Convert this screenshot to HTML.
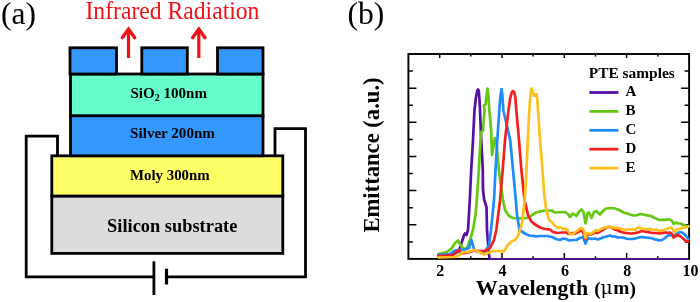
<!DOCTYPE html>
<html lang="en"><head><meta charset="utf-8"><title>Figure</title>
<style>html,body{margin:0;padding:0;background:#fff}body{width:700px;height:302px;overflow:hidden}svg{display:block}</style>
</head><body>
<svg width="700" height="302" viewBox="0 0 700 302">
<rect width="700" height="302" fill="#fff"/>
<g font-family="'Liberation Serif', serif">
<text transform="translate(1 23.9) scale(1.032 1)" font-size="30.6" fill="#000">(a)</text>
<text transform="translate(347.4 24.1) scale(1.03 1)" font-size="30.7" fill="#000">(b)</text>
<text transform="translate(85.5 19.4) scale(0.969 1)" font-size="24.4" fill="#ee1118">Infrared Radiation</text>
</g>
<path d="M128.5 58.0V29.5" stroke="#ee1118" stroke-width="3.2" fill="none"/>
<path d="M122.3 37.7L128.5 29.1L134.7 37.7" stroke="#ee1118" stroke-width="3.4" fill="none" stroke-linejoin="miter" stroke-linecap="round"/>
<path d="M198.8 58.0V29.5" stroke="#ee1118" stroke-width="3.2" fill="none"/>
<path d="M192.6 37.7L198.8 29.1L205.0 37.7" stroke="#ee1118" stroke-width="3.4" fill="none" stroke-linejoin="miter" stroke-linecap="round"/>
<path d="M57.5 156V136.2H26.2V276.8H153" fill="none" stroke="#000" stroke-width="2.8"/>
<path d="M275 156V128.6H305.5V276.8H168" fill="none" stroke="#000" stroke-width="2.8"/>
<path d="M153.9 261.3V295" stroke="#000" stroke-width="2.8"/>
<path d="M166.5 268.7V284.5" stroke="#000" stroke-width="3.2"/>
<rect x="51.8" y="196" width="231" height="57.4" fill="#dcdcdc" stroke="#000" stroke-width="2.8"/>
<rect x="51.8" y="155.8" width="231" height="40.2" fill="#ffff66" stroke="#000" stroke-width="2.8"/>
<rect x="70.5" y="115.7" width="192.5" height="40.1" fill="#3399ff" stroke="#000" stroke-width="2.8"/>
<rect x="70.5" y="74" width="192.5" height="41.7" fill="#66ffcc" stroke="#000" stroke-width="2.8"/>
<rect x="70.0" y="47.8" width="46.5" height="26.2" fill="#3399ff" stroke="#000" stroke-width="2.8"/>
<rect x="141.8" y="47.8" width="45.5" height="26.2" fill="#3399ff" stroke="#000" stroke-width="2.8"/>
<rect x="217.5" y="47.8" width="45.5" height="26.2" fill="#3399ff" stroke="#000" stroke-width="2.8"/>
<g font-family="'Liberation Serif', serif" font-weight="bold" fill="#000">
<text x="130.5" y="97.7" font-size="15.05">SiO<tspan font-size="10" dy="3">2</tspan><tspan dy="-3"> 100nm</tspan></text>
<text x="130.1" y="138.3" font-size="15.1">Silver 200nm</text>
<text x="129.9" y="179.8" font-size="14.9">Moly 300nm</text>
<text x="107.1" y="231.8" font-size="18.4">Silicon substrate</text>
</g>
<rect x="408.4" y="54.0" width="280.7" height="204.9" fill="none" stroke="#000" stroke-width="1.9"/>
<path d="M439.7 258.9v-5.9M439.7 54.0v4.1M470.8 258.9v-2.6M470.8 54.0v2.6M502.0 258.9v-5.9M502.0 54.0v4.1M533.1 258.9v-2.6M533.1 54.0v2.6M564.3 258.9v-5.9M564.3 54.0v4.1M595.5 258.9v-2.6M595.5 54.0v2.6M626.6 258.9v-5.9M626.6 54.0v4.1M657.8 258.9v-2.6M657.8 54.0v2.6M408.4 241.9h4.5M689.1 241.9h-4.5M408.4 224.8h8.0M689.1 224.8h-8.0M408.4 207.7h4.5M689.1 207.7h-4.5M408.4 190.6h8.0M689.1 190.6h-8.0M408.4 173.6h4.5M689.1 173.6h-4.5M408.4 156.5h8.0M689.1 156.5h-8.0M408.4 139.4h4.5M689.1 139.4h-4.5M408.4 122.3h8.0M689.1 122.3h-8.0M408.4 105.2h4.5M689.1 105.2h-4.5M408.4 88.2h8.0M689.1 88.2h-8.0M408.4 71.1h4.5M689.1 71.1h-4.5" stroke="#000" stroke-width="1.5" fill="none"/>
<polyline fill="none" stroke="#5410a6" stroke-width="2.7" stroke-linejoin="round" stroke-linecap="round" points="438.5,255.5 450.0,254.5 456.0,253.0 459.0,251.0 461.5,243.0 464.0,235.0 465.0,233.5 466.5,235.0 468.0,230.0 469.8,200.0 471.2,170.0 473.0,140.0 474.5,110.0 476.0,97.0 477.2,91.0 478.0,89.5 478.8,91.0 479.5,100.0 480.0,110.0 480.8,130.0 481.5,145.0 482.8,170.0 483.0,190.0 484.2,200.0 486.5,207.0 487.0,230.0 488.5,250.0 489.2,256.0 489.6,258.9"/>
<polyline fill="none" stroke="#66c811" stroke-width="2.7" stroke-linejoin="round" stroke-linecap="round" points="438.5,254.0 447.0,252.0 452.0,248.0 455.0,243.0 458.0,240.5 461.0,246.0 464.0,249.0 467.0,248.0 470.0,240.0 473.0,230.0 475.5,215.0 476.8,200.0 478.8,170.0 480.5,140.0 481.0,132.5 483.0,130.5 484.5,110.0 483.8,105.5 485.5,104.5 486.5,96.0 487.5,88.5 488.4,96.0 489.3,110.0 491.0,128.0 492.0,155.0 493.2,148.0 494.8,138.0 496.5,142.0 498.8,170.0 503.0,200.0 505.0,210.0 509.0,216.0 513.0,218.0 521.0,218.5 527.0,218.0 530.0,216.5 536.5,212.2 545.0,210.5 551.5,210.5 555.0,212.5 565.0,212.0 568.0,214.0 570.0,217.0 573.0,213.5 576.5,216.0 579.0,211.5 581.5,209.5 583.5,212.0 585.5,223.5 587.5,213.0 589.0,212.5 591.5,218.0 594.0,212.0 596.5,211.0 600.0,214.5 603.0,211.0 606.0,208.5 613.0,208.0 618.0,209.5 625.0,213.0 627.5,213.4 630.0,214.5 632.5,215.3 635.0,215.5 637.5,215.0 640.0,214.0 642.5,214.3 645.0,215.0 647.0,215.3 649.0,215.6 651.0,216.0 653.5,217.4 656.0,218.5 658.0,219.5 660.0,220.0 662.5,219.6 665.0,220.0 667.5,219.3 670.0,219.5 672.0,221.0 673.5,224.0 676.0,222.5 678.0,223.3 680.0,223.5 682.0,224.2 684.0,225.0 686.2,225.8 688.4,226.0"/>
<polyline fill="none" stroke="#1e8cff" stroke-width="2.7" stroke-linejoin="round" stroke-linecap="round" points="438.5,255.0 450.0,254.0 454.0,251.0 457.0,250.0 465.0,249.5 469.0,248.0 471.5,240.0 474.0,249.0 476.0,251.5 485.0,252.0 489.0,245.0 491.0,230.0 494.0,200.0 495.5,170.0 497.3,140.0 499.3,110.0 500.3,97.0 501.5,89.0 502.5,97.0 503.3,110.0 510.2,140.0 513.0,170.0 515.8,200.0 517.0,215.0 519.5,230.0 525.0,233.5 529.0,235.5 536.5,236.3 540.0,236.0 547.0,236.0 552.0,237.0 556.0,239.0 560.0,240.0 563.0,238.5 566.0,239.0 569.0,240.5 573.0,240.0 576.0,240.0 580.0,238.0 583.0,237.0 585.5,243.5 588.0,238.0 592.0,239.0 595.0,238.5 598.0,239.5 603.0,237.5 610.0,235.5 612.5,236.4 615.0,236.5 617.5,237.4 620.0,237.5 622.0,237.5 624.0,237.8 626.0,238.5 628.0,238.9 630.0,239.0 632.0,239.0 634.5,238.6 637.0,238.0 639.5,237.3 642.0,237.0 644.5,237.3 647.0,237.5 649.0,237.8 651.0,238.0 653.0,238.8 655.0,239.5 657.0,239.7 659.0,240.5 662.0,240.0 665.0,238.0 668.0,235.5 671.0,235.0 674.0,235.5 677.0,233.5 680.0,232.0 683.0,233.0 686.0,236.0 688.4,239.0"/>
<polyline fill="none" stroke="#f42020" stroke-width="2.7" stroke-linejoin="round" stroke-linecap="round" points="438.5,256.0 453.0,255.0 457.0,251.5 459.0,250.0 461.0,253.5 466.0,253.0 475.0,250.5 480.0,251.0 485.0,251.0 490.0,248.0 494.0,240.0 496.3,230.0 500.1,200.0 502.7,170.0 505.0,140.0 508.5,110.0 510.2,98.0 511.7,92.4 513.0,91.0 514.3,92.4 515.4,98.0 516.3,110.0 519.0,140.0 521.4,170.0 524.5,200.0 528.0,215.0 531.0,221.0 534.3,224.0 540.0,227.5 545.0,229.0 550.0,229.5 553.0,232.0 557.0,233.0 562.0,232.5 566.0,232.5 569.0,234.0 572.0,233.0 575.0,233.5 578.0,232.0 581.0,230.5 583.0,232.0 585.5,239.0 587.5,234.5 591.0,234.5 595.0,232.5 598.0,233.0 601.0,231.0 605.0,228.5 608.0,227.0 610.0,227.0 613.0,228.3 615.0,229.5 617.5,230.3 620.0,231.5 622.5,232.3 625.0,233.0 627.5,233.1 630.0,233.5 632.5,233.3 635.0,233.0 637.0,232.6 639.0,232.0 642.0,231.0 644.0,231.2 646.0,232.0 648.0,231.9 650.0,232.5 652.5,233.0 655.0,233.0 657.5,233.1 660.0,233.5 662.5,232.8 665.0,232.5 667.5,232.9 670.0,232.5 672.0,234.0 673.5,237.5 675.0,236.5 677.5,235.0 680.0,236.0 683.0,238.5 686.0,241.0 688.4,241.5"/>
<polyline fill="none" stroke="#ffc01e" stroke-width="2.7" stroke-linejoin="round" stroke-linecap="round" points="438.5,257.5 455.0,257.0 459.0,255.5 462.0,252.5 467.0,252.0 475.0,250.0 479.0,252.0 484.0,254.5 489.0,252.5 493.0,251.0 498.0,251.0 504.0,251.5 507.0,246.0 509.0,244.0 512.0,241.0 515.0,240.0 518.0,236.0 520.0,230.0 521.0,227.0 522.5,220.0 524.7,200.0 526.5,170.0 527.8,140.0 529.3,110.0 530.5,95.0 531.5,88.3 532.6,91.0 534.0,96.0 536.5,94.2 537.3,100.0 538.0,110.0 540.0,140.0 542.5,170.0 544.3,195.0 546.0,208.0 549.0,220.0 552.0,222.0 555.0,226.0 558.0,228.0 560.0,227.0 563.0,229.0 566.0,228.5 568.0,231.0 570.0,234.0 572.0,234.5 574.0,233.0 577.0,231.0 580.0,228.5 582.0,228.0 584.0,231.0 585.5,238.0 587.0,233.0 590.0,234.0 593.0,232.5 596.0,230.0 598.0,231.0 601.0,229.0 605.0,227.5 610.0,227.0 612.5,227.3 615.0,228.0 617.5,227.9 620.0,228.5 622.5,229.2 625.0,230.0 627.5,229.5 630.0,229.5 632.5,229.4 635.0,230.0 638.0,227.5 640.0,227.9 642.0,228.5 644.0,229.1 646.0,229.0 648.0,229.2 650.0,229.0 653.0,230.0 656.0,229.5 658.0,230.5 660.0,231.0 662.0,230.3 664.0,230.0 666.0,229.3 668.0,228.5 671.0,227.5 673.0,229.5 674.5,232.5 677.0,229.5 679.0,228.8 681.0,228.5 683.0,227.7 685.0,227.5 688.4,226.5"/>
<path d="M489 258.9H688" stroke="#5410a6" stroke-width="1.9"/>
<g font-family="'Liberation Serif', serif" font-weight="bold" fill="#000">
<text x="440.3" y="276.4" font-size="16" text-anchor="middle">2</text>
<text x="502.6" y="276.4" font-size="16" text-anchor="middle">4</text>
<text x="564.9" y="276.4" font-size="16" text-anchor="middle">6</text>
<text x="627.2" y="276.4" font-size="16" text-anchor="middle">8</text>
<text x="690.5" y="276.4" font-size="16" text-anchor="middle">10</text>
<text x="475.7" y="295" font-size="22" style="font-kerning:none">Wavelength <tspan font-size="19.4" x="594.2 600.6 613.2 629.4" y="294.9 294.3 294.3 294.9">(<tspan font-weight="normal" font-size="18.7" font-family="'DejaVu Serif', 'Liberation Serif', serif">μ</tspan>m)</tspan></text>
<text transform="translate(379 232.6) rotate(-90)" font-size="22.64">Emittance (a.u.)</text>
<text x="588.8" y="77.6" font-size="15.4">PTE samples</text>
<path d="M589.4 92.5H618.4" stroke="#5410a6" stroke-width="2.8"/>
<text x="625.5" y="96.1" font-size="15">A</text>
<path d="M589.4 111.4H618.4" stroke="#66c811" stroke-width="2.8"/>
<text x="625.5" y="115.0" font-size="15">B</text>
<path d="M589.4 130.3H618.4" stroke="#1e8cff" stroke-width="2.8"/>
<text x="625.5" y="133.9" font-size="15">C</text>
<path d="M589.4 149.2H618.4" stroke="#f42020" stroke-width="2.8"/>
<text x="625.5" y="152.8" font-size="15">D</text>
<path d="M589.4 168.1H618.4" stroke="#ffc01e" stroke-width="2.8"/>
<text x="625.5" y="171.7" font-size="15">E</text>
</g>
</svg>
</body></html>
